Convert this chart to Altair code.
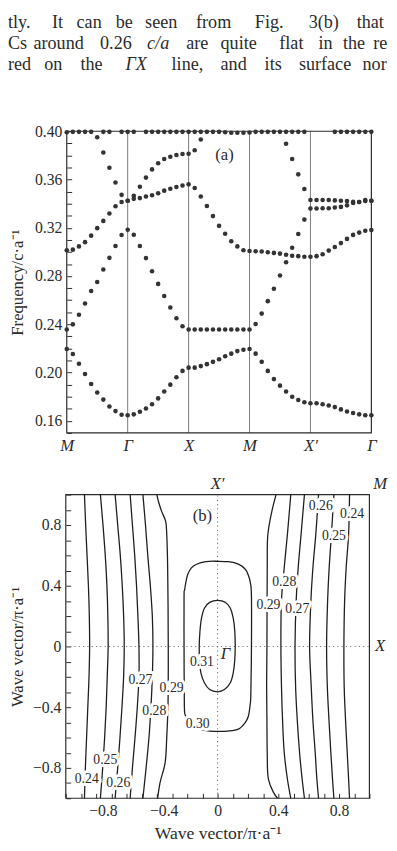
import json
import altair as alt
import pandas as pd

FONT = "Liberation Serif"
INK = "#2b2b2b"
W, H = 389, 843

# ---------------- running text above the figure (cut by the crop) ----------------
line1_words = ["tly.", "It", "can", "be", "seen", "from", "Fig.", "3(b)", "that"]
line1_x = [0, 45, 70, 110, 140, 192, 252, 307, 356]
line2_words = ["Cs", "around", "0.26", "c/a", "are", "quite", "flat", "in", "the", "re"]
line2_x = [0, 26, 94, 142, 182, 217, 277, 317, 342, 373]
line2_italic = [False, False, False, True, False, False, False, False, False, False]
line3_words = ["red", "on", "the", "ΓX", "line,", "and", "its", "surface", "nor"]
line3_x = [0, 37, 74, 120, 167, 217, 262, 297, 362]
line3_italic = [False, False, False, True, False, False, False, False, False]
line_base = [12, 32.5, 54]

# ---------------- panel (a): band structure ----------------
# frequency (c/a) at 51 k-points along M-Γ-X-M-X'-Γ (10 steps per segment); None = outside frame
band_1 = [0.2195, 0.2154, 0.2073, 0.1989, 0.1905, 0.1835, 0.1776, 0.1719, 0.1681, 0.1651, 0.1646,
          0.1654, 0.1676, 0.1703, 0.1738, 0.1786, 0.1843, 0.1900, 0.1962, 0.2014, 0.2041,
          0.2041, 0.2054, 0.2070, 0.2089, 0.2111, 0.2135, 0.2157, 0.2178, 0.2189, 0.2195,
          0.2157, 0.2089, 0.2014, 0.1946, 0.1892, 0.1843, 0.1800, 0.1773, 0.1754, 0.1746,
          0.1746, 0.1738, 0.1727, 0.1714, 0.1695, 0.1678, 0.1665, 0.1654, 0.1646, 0.1646]
band_2 = [0.2357, 0.2400, 0.2480, 0.2573, 0.2676, 0.2751, 0.2854, 0.2951, 0.3049, 0.3140, 0.3184,
          0.3143, 0.3049, 0.2949, 0.2840, 0.2735, 0.2635, 0.2540, 0.2451, 0.2384, 0.2357,
          0.2357, 0.2357, 0.2357, 0.2357, 0.2357, 0.2357, 0.2357, 0.2357, 0.2357, 0.2357,
          0.2403, 0.2489, 0.2592, 0.2695, 0.2805, 0.2914, 0.3035, 0.3149, 0.3268, 0.3360,
          0.3360, 0.3362, 0.3362, 0.3368, 0.3373, 0.3386, 0.3405, 0.3414, 0.3422, 0.3424]
band_3 = [0.3014, 0.3019, 0.3046, 0.3081, 0.3135, 0.3197, 0.3257, 0.3319, 0.3378, 0.3414, 0.3424,
          0.3440, 0.3446, 0.3460, 0.3470, 0.3486, 0.3508, 0.3524, 0.3538, 0.3551, 0.3560,
          0.3530, 0.3460, 0.3380, 0.3297, 0.3216, 0.3151, 0.3089, 0.3046, 0.3014, 0.3008,
          0.3005, 0.3003, 0.2997, 0.2992, 0.2986, 0.2976, 0.2968, 0.2965, 0.2960, 0.2960,
          0.2965, 0.2981, 0.3011, 0.3041, 0.3073, 0.3108, 0.3141, 0.3160, 0.3176, 0.3181]
band_4 = [None, None, None, None, None, 0.3951, 0.3824, 0.3697, 0.3576, 0.3473, 0.3424,
          0.3465, 0.3540, 0.3616, 0.3684, 0.3735, 0.3770, 0.3789, 0.3803, 0.3811, 0.3814,
          0.3843, 0.3932, None, None, None, None, None, None, None, None,
          None, None, None, None, None, None, None, None, None, None,
          None, None, None, None, None, None, None, None, None, None]
band_5 = [None, None, None, None, None, None, None, None, None, None, None,
          None, None, None, None, None, None, None, None, None, None,
          None, None, None, None, None, None, None, None, None, None,
          None, None, None, None, None, 0.3897, 0.3770, 0.3643, 0.3522, 0.3430,
          0.3430, 0.3430, 0.3430, 0.3427, 0.3424, 0.3422, 0.3416, 0.3414, 0.3430, 0.3424]
band_top = [0.3992, 0.3995, 0.3995, 0.3995, 0.3995, None, 0.3995, 0.3995, None, 0.3995, 0.3995,
            0.3995, None, 0.3995, 0.3995, 0.3995, 0.3995, 0.3995, 0.3995, 0.3995, 0.3995,
            0.3995, 0.3995, 0.3995, 0.3995, 0.3995, 0.3992, 0.3988, 0.3988, 0.3988, 0.3990,
            0.3995, 0.3995, 0.3995, 0.3995, 0.3995, 0.3995, 0.3995, 0.3995, 0.3995, None,
            None, None, None, 0.3995, 0.3995, 0.3995, 0.3995, 0.3995, 0.3995, 0.3995]
k_pos = [0, 1, 2, 3, 4, 5]
k_names = ["M", "Γ", "X", "M", "X′", "Γ"]
freq_lo, freq_hi = 0.15, 0.40
freq_ticks = [0.16, 0.20, 0.24, 0.28, 0.32, 0.36, 0.40]
freq_minor = [round(0.15 + 0.01 * i, 2) for i in range(26)]

# ---------------- panel (b): iso-frequency contours ----------------
wave_ticks = [-0.8, -0.4, 0, 0.4, 0.8]
wave_minor = [round(-1 + 0.1 * i, 1) for i in range(21)]

lev_y = [1.0, 0.8, 0.6, 0.4, 0.2, 0.0, -0.2, -0.4, -0.6, -0.8, -1.0]
c24_left_x = [-0.877, -0.869, -0.860, -0.851, -0.845, -0.843, -0.847, -0.855, -0.863, -0.871, -0.877]
c25_left_x = [-0.772, -0.755, -0.740, -0.729, -0.723, -0.721, -0.727, -0.734, -0.744, -0.757, -0.772]
c26_left_x = [-0.675, -0.658, -0.641, -0.628, -0.619, -0.615, -0.619, -0.630, -0.643, -0.658, -0.675]
c27_left_x = [-0.576, -0.561, -0.546, -0.534, -0.525, -0.518, -0.518, -0.529, -0.544, -0.561, -0.576]
c28_left_x = [-0.492, -0.475, -0.460, -0.443, -0.430, -0.426, -0.430, -0.439, -0.452, -0.471, -0.492]
c29_left_x = [-0.400, -0.389, -0.368, -0.342, -0.335, -0.329, -0.325, -0.325, -0.327, -0.335, -0.346, -0.379, -0.395]
c29_left_y = [1.0, 0.953, 0.888, 0.824, 0.737, 0.523, 0.0, -0.2, -0.4, -0.6, -0.768, -0.897, -1.0]

rev_y = [1.0, 0.74, 0.52, 0.31, 0.0, -0.27, -0.49, -0.70, -0.875, -1.0]
c24_right_x = [0.869, 0.863, 0.847, 0.837, 0.832, 0.834, 0.843, 0.854, 0.863, 0.869]
c25_right_x = [0.766, 0.750, 0.735, 0.725, 0.718, 0.723, 0.734, 0.746, 0.757, 0.766]
c26_right_x = [0.665, 0.647, 0.628, 0.615, 0.606, 0.617, 0.628, 0.643, 0.654, 0.665]
c27_right_x = [0.572, 0.550, 0.531, 0.518, 0.510, 0.514, 0.525, 0.540, 0.557, 0.572]
c28_right_x = [0.482, 0.460, 0.439, 0.421, 0.417, 0.421, 0.428, 0.439, 0.460, 0.482]
c29_right_x = [0.385, 0.357, 0.331, 0.327, 0.325, 0.323, 0.325, 0.327, 0.335, 0.368, 0.395]
c29_right_y = [1.0, 0.888, 0.737, 0.523, 0.0, -0.271, -0.488, -0.703, -0.875, -0.961, -1.0]

c30_x = [-0.221, -0.217, -0.206, -0.195, -0.174, -0.142, -0.077, 0.0, 0.071, 0.137, 0.181, 0.202, 0.216, 0.223,
         0.223, 0.219, 0.213, 0.203, 0.181, 0.137, 0.065, 0.0, -0.077, -0.142, -0.187, -0.213, -0.219, -0.221]
c30_y = [0.329, 0.374, 0.439, 0.479, 0.516, 0.540, 0.559, 0.561, 0.558, 0.542, 0.510, 0.471, 0.419, 0.329,
         0.0, -0.316, -0.394, -0.458, -0.503, -0.545, -0.558, -0.560, -0.555, -0.535, -0.503, -0.452, -0.381, 0.0]
c31_x = [0.0, 0.052, 0.084, 0.103, 0.113, 0.116, 0.113, 0.103, 0.084, 0.045,
         0.0, -0.052, -0.087, -0.110, -0.119, -0.121, -0.116, -0.106, -0.087, -0.052]
c31_y = [0.303, 0.290, 0.252, 0.187, 0.103, 0.006, -0.090, -0.174, -0.239, -0.284,
         -0.299, -0.284, -0.239, -0.174, -0.090, 0.006, 0.103, 0.187, 0.252, 0.290]

label_text = ["0.24", "0.25", "0.26", "0.27", "0.28", "0.29", "0.30", "0.31",
              "0.26", "0.24", "0.25", "0.28", "0.29", "0.27"]
label_x = [-0.862, -0.740, -0.654, -0.508, -0.417, -0.303, -0.131, -0.103,
           0.680, 0.886, 0.766, 0.439, 0.335, 0.525]
label_y = [-0.876, -0.747, -0.901, -0.219, -0.428, -0.273, -0.514, -0.105,
           0.927, 0.873, 0.727, 0.426, 0.275, 0.247]

point_text = ["X′", "M", "X", "Γ"]
point_x = [0.0, 1.071, 1.071, 0.052]
point_y = [1.071, 1.071, 0.0, -0.052]

# ---------------- scales (pixel ranges of the two plot frames) ----------------
A_X = alt.Scale(domain=[0, 5], range=[60, 371], nice=False, zero=False)
A_Y = alt.Scale(domain=[freq_lo, freq_hi], range=[425, 117], nice=False, zero=False)
B_X = alt.Scale(domain=[-1, 1], range=[59, 369], nice=False, zero=False)
B_Y = alt.Scale(domain=[-1, 1], range=[798, 488], nice=False, zero=False)

MINUS_FMT = "datum.value == 0 ? '0' : replace(format(datum.value, '.1f'), '-', '−')"


def ax(**kw):
    base = dict(labelFont=FONT, labelColor=INK, titleFont=FONT, titleColor=INK,
                titleFontWeight="normal", grid=False, domain=False,
                labelFlush=False, labelOverlap=False)
    base.update(kw)
    return alt.Axis(**base)


# ----- panel (a) -----
rows = []
for name, band in [("1", band_1), ("2", band_2), ("3", band_3), ("4", band_4), ("5", band_5), ("t", band_top)]:
    for i, f in enumerate(band):
        if f is not None:
            rows.append({"band": name, "k": i / 10, "f": f})
pts = pd.DataFrame(rows)

a_vlines = alt.Chart(pd.DataFrame({"k": k_pos[1:-1], "lo": freq_lo, "hi": freq_hi})).mark_rule(
    color="#7a7a7a", strokeWidth=1).encode(
    x=alt.X("k:Q", scale=A_X, axis=None),
    y=alt.Y("lo:Q", scale=A_Y, axis=None), y2="hi:Q")

a_frame = alt.Chart(pd.DataFrame({"k0": [k_pos[0]], "k1": [k_pos[-1]], "f0": [freq_lo], "f1": [freq_hi]})).mark_rect(
    fill="white", fillOpacity=0, stroke=INK, strokeWidth=1.2).encode(
    x=alt.X("k0:Q", scale=A_X, axis=ax(orient="bottom", values=k_pos,
            labelExpr=json.dumps(k_names, ensure_ascii=False) + "[datum.value]",
            ticks=False, tickSize=0, offset=-418, labelPadding=5, labelFontSize=17,
            labelFontStyle="italic", title=None)),
    x2="k1:Q",
    y=alt.Y("f0:Q", scale=A_Y, axis=ax(orient="left", values=freq_ticks, format=".2f",
            ticks=False, tickSize=0, offset=-60, labelPadding=5, labelFontSize=16,
            title="Frequency/c·a⁻¹", titleFontSize=17, titleX=-45, titleAngle=270,
            titleBaseline="alphabetic", titleAlign="center")),
    y2="f1:Q")

a_points = alt.Chart(pts).mark_circle(size=22, color="#333333", opacity=1).encode(
    x=alt.X("k:Q", scale=A_X, axis=None),
    y=alt.Y("f:Q", scale=A_Y, axis=ax(orient="left", values=freq_minor, labels=False,
            ticks=True, tickSize=5, tickColor=INK, tickWidth=1, offset=-65, title=None)))

a_tag = alt.Chart(pd.DataFrame({"k": [2.59], "f": [0.3805], "t": ["(a)"]})).mark_text(
    font=FONT, fontSize=17, color=INK).encode(
    x=alt.X("k:Q", scale=A_X, axis=None), y=alt.Y("f:Q", scale=A_Y, axis=None), text="t:N")

# ----- panel (b) -----
b_frame = alt.Chart(pd.DataFrame({"x0": [-1], "x1": [1], "y0": [-1], "y1": [1]})).mark_rect(
    fill="white", fillOpacity=0, stroke=INK, strokeWidth=1.2).encode(
    x=alt.X("x0:Q", scale=B_X, axis=ax(orient="bottom", values=wave_ticks,
            labelExpr=MINUS_FMT,
            labelOffset={"condition": {"test": "datum.value < 0", "value": 7}, "value": 0},
            ticks=False, tickSize=0, offset=-45, labelPadding=5, labelFontSize=16,
            title="Wave vector/π·a⁻¹", titleFontSize=18, titleY=41, titleBaseline="alphabetic")),
    x2="x1:Q",
    y=alt.Y("y0:Q", scale=B_Y, axis=ax(orient="left", values=wave_ticks,
            labelExpr=MINUS_FMT,
            ticks=False, tickSize=0, offset=-59, labelPadding=5, labelFontSize=16,
            title="Wave vector/π·a⁻¹", titleFontSize=17, titleX=-44, titleAngle=270,
            titleBaseline="alphabetic", titleAlign="center")),
    y2="y1:Q")

dots = pd.DataFrame({"x": [0, -1], "x2": [0, 1], "y": [-1, 0], "y2": [1, 0]})
b_dots = alt.Chart(dots).mark_rule(color="#777777", strokeWidth=1.1, strokeDash=[1.2, 3.2]).encode(
    x=alt.X("x:Q", scale=B_X, axis=None), x2="x2:Q",
    y=alt.Y("y:Q", scale=B_Y, axis=None), y2="y2:Q")

open_rows = []
for cid, xs, ys in [("24L", c24_left_x, lev_y), ("25L", c25_left_x, lev_y), ("26L", c26_left_x, lev_y),
                    ("27L", c27_left_x, lev_y), ("28L", c28_left_x, lev_y), ("29L", c29_left_x, c29_left_y),
                    ("24R", c24_right_x, rev_y), ("25R", c25_right_x, rev_y), ("26R", c26_right_x, rev_y),
                    ("27R", c27_right_x, rev_y), ("28R", c28_right_x, rev_y), ("29R", c29_right_x, c29_right_y)]:
    for o, (x, y) in enumerate(zip(xs, ys)):
        open_rows.append({"id": cid, "o": o, "x": x, "y": y})
closed_rows = []
for cid, xs, ys in [("30", c30_x, c30_y), ("31", c31_x, c31_y)]:
    for o, (x, y) in enumerate(zip(xs, ys)):
        closed_rows.append({"id": cid, "o": o, "x": x, "y": y})

b_open = alt.Chart(pd.DataFrame(open_rows)).mark_line(
    color="#1e1e1e", strokeWidth=1.3, interpolate="catmull-rom").encode(
    x=alt.X("x:Q", scale=B_X, axis=ax(orient="bottom", values=wave_minor, labels=False,
            ticks=True, tickSize=5, tickColor=INK, tickWidth=1, offset=-50, title=None)),
    y=alt.Y("y:Q", scale=B_Y, axis=ax(orient="left", values=wave_minor, labels=False,
            ticks=True, tickSize=5, tickColor=INK, tickWidth=1, offset=-64, title=None)),
    detail="id:N", order="o:Q")

b_closed = alt.Chart(pd.DataFrame(closed_rows)).mark_line(
    color="#1e1e1e", strokeWidth=1.3, interpolate="cardinal-closed").encode(
    x=alt.X("x:Q", scale=B_X, axis=None), y=alt.Y("y:Q", scale=B_Y, axis=None),
    detail="id:N", order="o:Q")

lab = pd.DataFrame({"t": label_text, "x": label_x, "y": label_y})
b_halo = alt.Chart(lab).mark_text(font=FONT, fontSize=14, color="white", stroke="white",
                                  strokeWidth=6, strokeJoin="round").encode(
    x=alt.X("x:Q", scale=B_X, axis=None), y=alt.Y("y:Q", scale=B_Y, axis=None), text="t:N")
b_lab = alt.Chart(lab).mark_text(font=FONT, fontSize=14, color=INK).encode(
    x=alt.X("x:Q", scale=B_X, axis=None), y=alt.Y("y:Q", scale=B_Y, axis=None), text="t:N")

b_pts = alt.Chart(pd.DataFrame({"t": point_text, "x": point_x, "y": point_y})).mark_text(
    font=FONT, fontSize=17, fontStyle="italic", color=INK).encode(
    x=alt.X("x:Q", scale=B_X, axis=None), y=alt.Y("y:Q", scale=B_Y, axis=None), text="t:N")
b_tag = alt.Chart(pd.DataFrame({"t": ["(b)"], "x": [-0.10], "y": [0.856]})).mark_text(
    font=FONT, fontSize=17, color=INK).encode(
    x=alt.X("x:Q", scale=B_X, axis=None), y=alt.Y("y:Q", scale=B_Y, axis=None), text="t:N")

# ----- running text -----
trows = []
for words, xs, ital, base in [(line1_words, line1_x, [False] * len(line1_words), line_base[0]),
                              (line2_words, line2_x, line2_italic, line_base[1]),
                              (line3_words, line3_x, line3_italic, line_base[2])]:
    for w, x, it in zip(words, xs, ital):
        trows.append({"w": w, "px": x, "py": base, "it": it})
tdf = pd.DataFrame(trows)
txt_up = alt.Chart(tdf[~tdf["it"]]).mark_text(font=FONT, fontSize=18.5, color=INK, align="left",
                                               baseline="alphabetic").encode(
    x=alt.X("px:Q", scale=None), y=alt.Y("py:Q", scale=None), text="w:N")
txt_it = alt.Chart(tdf[tdf["it"]]).mark_text(font=FONT, fontSize=18.5, fontStyle="italic", color=INK,
                                              align="left", baseline="alphabetic").encode(
    x=alt.X("px:Q", scale=None), y=alt.Y("py:Q", scale=None), text="w:N")

chart = alt.layer(
    a_vlines, a_frame, a_points, a_tag,
    b_frame, b_dots, b_open, b_closed, b_halo, b_lab, b_pts, b_tag,
    txt_up, txt_it,
).resolve_scale(x="independent", y="independent").resolve_axis(
    x="independent", y="independent"
).properties(
    width=W, height=H, autosize=alt.AutoSizeParams(type="none"), padding=0,
    background="white",
).configure_view(stroke=None)

chart.save("out.html", embed_options={"renderer": "svg", "actions": False})
